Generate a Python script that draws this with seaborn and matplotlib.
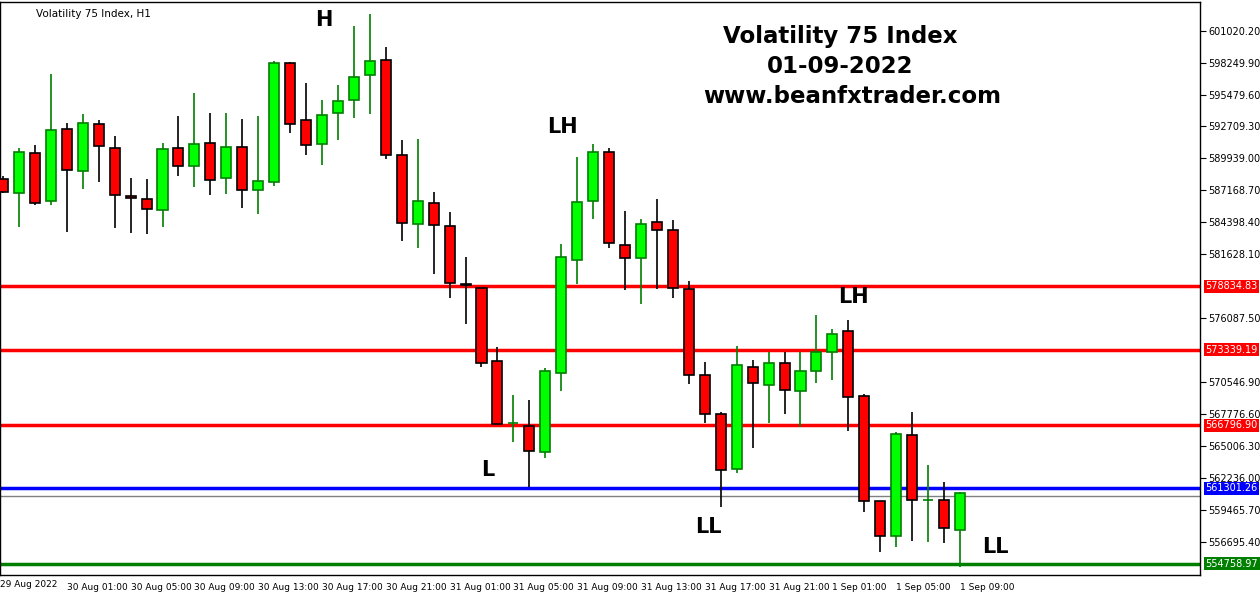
import matplotlib
matplotlib.use("Agg")
import matplotlib.pyplot as plt
import seaborn as sns
import pandas as pd
import numpy as np

opens = [588131,586920,590380,586228,592456,588823,592889,590813,586661,586401,
         585450,590813,589256,591245,588218,590900,587180,587872,598252,593235,
         591159,593840,594965,597214,598511,590208,584239,586055,584066,579049,
         578703,572388,566938,566680,564430,571350,581125,586228,590467,582423,
         581299,584411,583720,578616,571177,567717,562960,571869,570312,572215,
         569793,571522,573168,574983,569361,560192,557164,565900,560278,560278,557684]
closes = [587007,590467,586055,592370,588910,592975,590986,586747,586488,585536,
          590726,589256,591159,588045,590900,587180,587958,598252,592889,591072,
          593667,594878,597040,598425,590208,584325,586228,584152,579135,578962,
          572215,566852,566938,564517,571522,581385,586141,590467,582596,581299,
          584239,583720,578703,571177,567803,562873,572042,570485,572215,569880,
          571522,573168,574725,569274,560192,557164,565986,560278,560278,557857,560884]
highs = [588391,590813,591072,597300,592975,593754,593235,591851,588218,588131,
         591245,593581,595570,593841,593841,593321,593581,598425,598339,596522,
         594965,596349,601452,602491,599636,591505,591591,587007,585277,581385,
         578703,573600,569447,569015,571784,582510,590034,591159,590813,585364,
         584670,586401,584584,579307,572301,567976,573686,572474,573168,573168,
         573168,576368,575156,575935,569534,560192,566160,567890,563305,561835,560970]
lows = [586920,583980,585882,585882,583547,587266,587872,583893,583460,583374,
        583980,588391,587439,586747,586834,585623,585104,587526,592110,590208,
        589342,591505,593408,593754,589861,582768,582163,579913,577838,575589,
        571869,566852,565295,561403,563910,569793,579049,584670,582163,578530,
        577318,578616,577838,570398,566938,559673,562614,564776,566938,567803,
        566593,570485,570745,566247,559240,555780,556212,556732,556645,556559,554483]

tick_prices = [601020.20,598249.90,595479.60,592709.30,589939.00,587168.70,584398.40,
               581628.10,576087.50,570546.90,567776.60,565006.30,562236.00,559465.70,556695.40]
level_prices = [578834.83,573339.19,566796.90,561301.26,554758.97]
level_colors = ["#ff0000","#ff0000","#ff0000","#0000ff","#007f00"]
gray_level = 560621.01

x_labels = ["30 Aug 01:00","30 Aug 05:00","30 Aug 09:00","30 Aug 13:00","30 Aug 17:00",
            "30 Aug 21:00","31 Aug 01:00","31 Aug 05:00","31 Aug 09:00","31 Aug 13:00",
            "31 Aug 17:00","31 Aug 21:00","1 Sep 01:00","1 Sep 05:00","1 Sep 09:00"]

marks = [("H",20.1,601950),("LH",35.1,592700),("L",30.4,562900),("LL",44.2,557950),
         ("LH",53.3,577900),("LL",62.2,556200)]

df = pd.DataFrame({"open":opens,"close":closes,"high":highs,"low":lows})
df["i"] = np.arange(len(df))
df["up"] = df["close"] >= df["open"]

sns.set_style("white")
plt.rcParams['font.family'] = ['DejaVu Sans']

fig = plt.figure(figsize=(12.6,5.92), dpi=100)
ax = fig.add_axes([0.0, 1-575/592, 1200/1260, 575/592-0.003])

ymin, ymax = 553790, 603528
ax.set_ylim(ymin, ymax)
ax.set_xlim(-0.19, 75.05)

for lv, c in zip(level_prices, level_colors):
    ax.axhline(lv, color=c, lw=2.5, zorder=1)
ax.axhline(gray_level, color="#808080", lw=1, zorder=1)

for _, r in df.iterrows():
    wc = "#007f00" if r.up else "black"
    ax.vlines(r.i, r.low, r.high, color=wc, lw=1.2, zorder=2)
    lo, hi = min(r.open, r.close), max(r.open, r.close)
    ax.bar(r.i, max(hi-lo, 60), bottom=lo, width=0.63,
           color="#00ff00" if r.up else "#ff0000",
           edgecolor="#007f00" if r.up else "black", lw=1.2, zorder=3)

for t, x, y in marks:
    ax.text(x, y, t, fontsize=15, fontweight="heavy", color="black",
            ha="center", va="center", zorder=5)

for k, s in enumerate(["Volatility 75 Index","01-09-2022","www.beanfxtrader.com"]):
    ax.text(0.70 if k < 2 else 0.71, 1-(35+k*30)/575, s, transform=ax.transAxes,
            fontsize=16.5, fontweight="heavy", color="black", ha="center", va="center")
ax.text(0.03, 1-12/575, "Volatility 75 Index, H1", transform=ax.transAxes,
        fontsize=7.5, color="black", ha="left", va="center")

ax.yaxis.tick_right()
ax.set_yticks(tick_prices)
ax.set_yticklabels([f"{p:.2f}" for p in tick_prices], fontsize=7)
ax.tick_params(axis="y", direction="out", length=4, pad=2, colors="black")
for lv, c in zip(level_prices, level_colors):
    ax.annotate(f"{lv:.2f}", xy=(1.0, lv), xycoords=("axes fraction","data"),
                xytext=(4, 0), textcoords="offset points", fontsize=7, color="white",
                va="center", ha="left", annotation_clip=False,
                bbox=dict(boxstyle="square,pad=0.15", fc=c, ec="none"))

xt = list(range(4, 61, 4))
ax.set_xticks(xt)
ax.set_xticklabels(x_labels, fontsize=6.5, ha="left")
ax.tick_params(axis="x", direction="out", length=4, pad=2, colors="black")
ax.text(0.0, -0.008, "29 Aug 2022", transform=ax.transAxes, fontsize=6.5,
        color="black", ha="left", va="top")
for sp in ax.spines.values():
    sp.set_color("black"); sp.set_linewidth(1)

fig.savefig("out.png", dpi=100, facecolor="white")
